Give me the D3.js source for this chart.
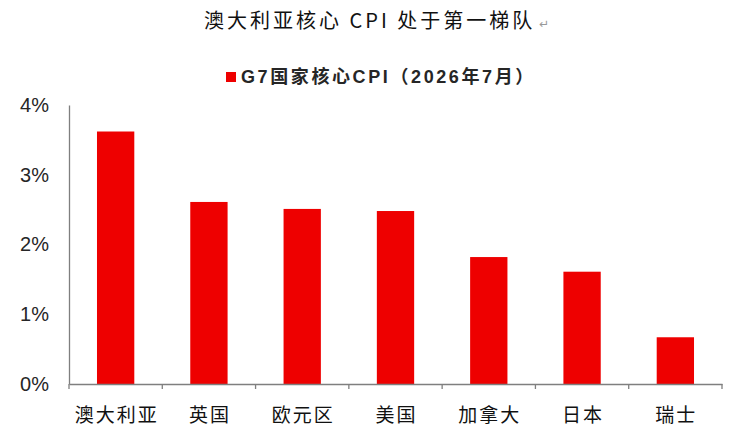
<!DOCTYPE html>
<html>
<head>
<meta charset="utf-8">
<script src="https://cdn.jsdelivr.net/npm/d3@7"></script>
<style>
  html, body { margin: 0; padding: 0; background: #fff; }
  svg { display: block; }
</style>
</head>
<body>
<div id="chart"></div>
<script>
const categories = ["澳大利亚", "英国", "欧元区", "美国", "加拿大", "日本", "瑞士"];
const coreCpi = [3.62, 2.61, 2.51, 2.48, 1.82, 1.61, 0.67];
const yTicks = [0, 1, 2, 3, 4];
const titleText = "澳大利亚核心 CPI 处于第一梯队";
const legendText = "G7国家核心CPI（2026年7月）";

const W = 735, H = 435;
const margin = { left: 69, right: 13, top: 105, bottom: 51 };
const barColor = "#ee0000";
const axisColor = "#7f7f7f";
const cjk = "'Noto Sans CJK SC', 'DejaVu Serif', serif";

const svg = d3.select("#chart").append("svg")
  .attr("width", W).attr("height", H);

const x = d3.scaleBand().domain(categories)
  .range([margin.left, W - margin.right]).paddingInner(0.6).paddingOuter(0.3);
const xb = d3.scaleBand().domain(categories).range([margin.left, W - margin.right]);
const y = d3.scaleLinear().domain([0, 4]).range([H - margin.bottom, margin.top]);

/* Title */
svg.append("text").attr("x", 204).attr("y", 28)
  .attr("font-family", cjk).attr("letter-spacing", "3px")
  .attr("font-size", "20px").attr("fill", "#111")
  .text(titleText);
svg.append("text").attr("x", 539).attr("y", 28)
  .attr("font-family", "DejaVu Sans").attr("font-size", "12px").attr("fill", "#999")
  .text("↵");

/* Legend */
const leg = svg.append("g").attr("transform", "translate(226,72)");
leg.append("rect").attr("width", 10).attr("height", 10).attr("fill", barColor);
leg.append("text").attr("x", 15).attr("y", 11)
  .attr("font-family", "'Liberation Sans', 'Noto Sans CJK SC', sans-serif")
  .attr("letter-spacing", "2.6px")
  .attr("font-weight", "bold").attr("font-size", "18px").attr("fill", "#262626")
  .text(legendText);

/* Bars */
svg.append("g").selectAll("rect").data(categories).join("rect")
  .attr("x", d => x(d)).attr("width", x.bandwidth())
  .attr("y", (d, i) => y(coreCpi[i]))
  .attr("height", (d, i) => y(0) - y(coreCpi[i]))
  .attr("fill", barColor);

/* Y axis */
const yAxis = svg.append("g").attr("transform", `translate(${margin.left},0)`)
  .call(d3.axisLeft(y).tickValues(yTicks).tickFormat(d => d + "%").tickSize(0).tickPadding(20));
yAxis.select(".domain").attr("stroke", axisColor).attr("stroke-width", 1.3);
yAxis.selectAll("text").attr("font-family", "'Liberation Sans', Arial, sans-serif")
  .attr("font-size", "20px").attr("fill", "#262626");

/* X axis */
const xAxis = svg.append("g").attr("transform", `translate(0,${y(0)})`)
  .call(d3.axisBottom(xb).tickSize(0).tickPadding(25));
xAxis.select(".domain").attr("stroke", axisColor).attr("stroke-width", 1.3);
xAxis.selectAll("text").attr("font-family", cjk)
  .attr("font-size", "19px").attr("letter-spacing", "2px").attr("dx", "1px")
  .attr("fill", "#111");
/* boundary ticks between categories */
const bounds = categories.map(d => xb(d)).concat([W - margin.right]);
xAxis.selectAll("line.bound").data(bounds).join("line").attr("class", "bound")
  .attr("x1", d => d).attr("x2", d => d).attr("y1", 0).attr("y2", 5)
  .attr("stroke", axisColor).attr("stroke-width", 1.3);
</script>
</body>
</html>
